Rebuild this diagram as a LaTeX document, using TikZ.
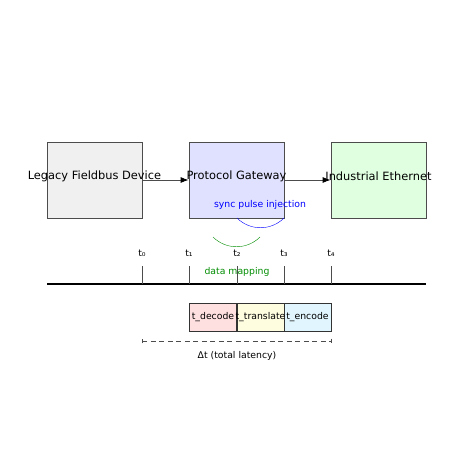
\documentclass[tikz,border=0pt]{standalone}
\usepackage{fontspec}
\setmainfont{DejaVu Sans}
\usetikzlibrary{arrows,arrows.meta}

\tikzset{
  devbox/.style={draw=black!70, thick, minimum width=95pt, minimum height=76pt, inner sep=0pt},
  devtext/.style={font=\fontsize{11.4}{13}\selectfont, inner sep=0pt},
  phasebox/.style={draw=black!80, minimum width=47pt, minimum height=28pt, inner sep=0pt},
  flow/.style={thick, black!70, -{Latex[length=8pt,width=6pt,black]}},
  small/.style={font=\fontsize{9.3}{11}\selectfont, inner sep=0pt}
}

\begin{document}
\begin{tikzpicture}[x=1pt,y=-1pt]
          \useasboundingbox (0,0) rectangle (474,474);
          \node[devbox, fill=black!6] (legacy) at (94.5,180){};
          \node[devbox, fill=blue!12] (gateway) at (236.5,180){};
          \node[devbox, fill=green!12] (ether) at (378.5,180){};
          \draw[flow] (legacy) -- (gateway);
          \draw[flow] (gateway) -- (ether);
          \node[devtext] (legacytxt) at (94.5,176){Legacy Fieldbus Device};
          \node[devtext] (gatewaytxt) at (236.5,176){Protocol Gateway};
          \node[devtext] (ethertxt) at (378.5,176){Industrial Ethernet};

          \coordinate (s0) at (237,218);
          \coordinate (s1) at (284,218);
          \draw[blue] (s0) to[bend right=45] (s1);
          \node[small, text=blue] (sync) at (260,205){sync pulse injection};
          \coordinate (m0) at (213,237);
          \coordinate (m1) at (260,237);
          \draw[green!55!black] (m0) to[bend right=45] (m1);

          \coordinate (axl) at (47,284);
          \coordinate (axr) at (426,284);
          \draw[very thick] (axl) -- (axr);
          \foreach \i/\x/\s in {0/142/₀,1/189/₁,2/237/₂,3/284/₃,4/331/₄}{
            \node[small] (t\i) at (\x,253){t\s};
            \coordinate (k\i) at (\x,266);
            \draw[black!70, semithick] (k\i) -- (k\i |- axl);
          }
          \node[small, text=green!55!black] (map) at (237,271.5){data mapping};

          \node[phasebox, fill=red!12] (dec) at (213,317){};
          \node[phasebox, fill=yellow!12] (tra) at (260.5,317){};
          \node[phasebox, fill=cyan!12] (enc) at (307.5,317){};
          \node[small] (dectxt) at (dec){t\_decode};
          \node[small] (tratxt) at (tra){t\_translate};
          \node[small] (enctxt) at (enc){t\_encode};

          \coordinate (d0) at (142,341);
          \coordinate (d1) at (331,341);
          \draw[black!70, dash pattern=on 5pt off 3.5pt, |-|] (d0) -- (d1);
          \node[small] (lat) at (237,356){Δt (total latency)};
        \end{tikzpicture}
\end{document}
